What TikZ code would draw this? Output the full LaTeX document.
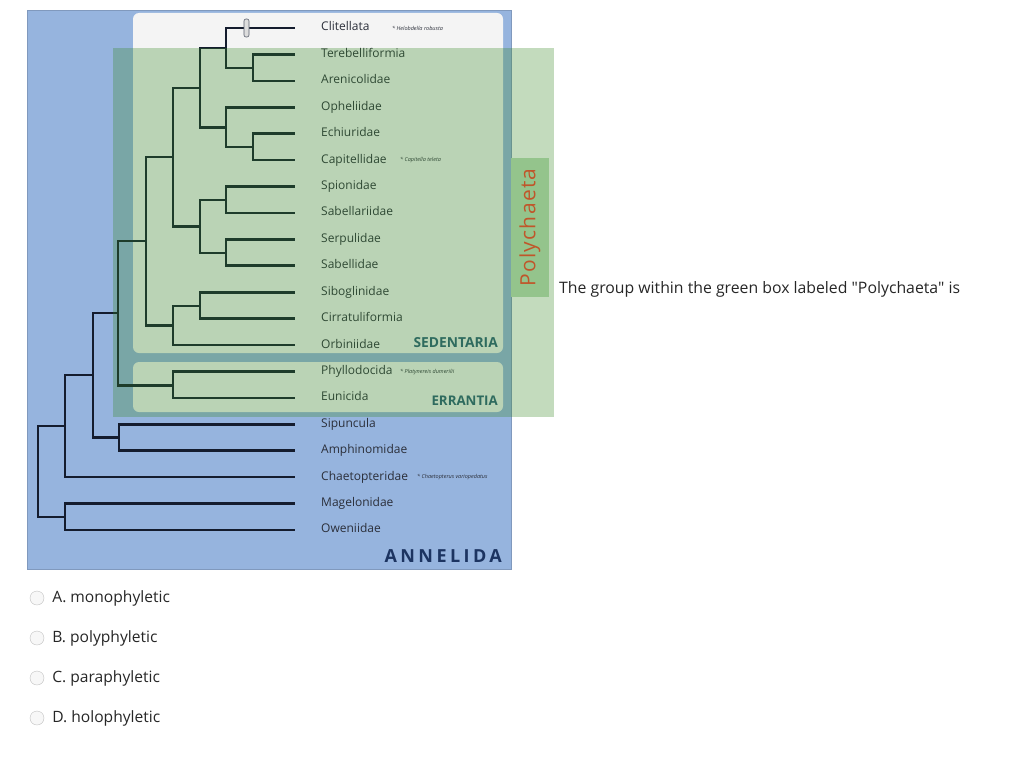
\documentclass[tikz,border=0pt]{standalone}
\usepackage{fontspec}
\setmainfont{Open Sans}[Ligatures=TeXOff]
\usepackage{tikz}
\usetikzlibrary{positioning}
\definecolor{annelidablue}{HTML}{96B4DE}
\definecolor{cladewhite}{HTML}{F4F4F4}
\definecolor{treeline}{HTML}{141C2E}
\definecolor{polygreen}{RGB}{55,135,38}
\definecolor{polybox}{HTML}{94C48C}
\definecolor{polytext}{HTML}{C0562A}
\definecolor{cladetext}{HTML}{2B5F77}
\definecolor{annelidatext}{HTML}{1C3461}
\definecolor{leaftext}{HTML}{2B2F3A}
\tikzset{%
  branch/.style={
    draw=treeline,
    line width=2.6pt
  },
  leaf label/.style={
    anchor=west,
    inner sep=0pt,
    text=leaftext,
    text height=8.5pt,
    text depth=2.5pt,
    font=\fontsize{12}{14}\selectfont
  },
  note/.style={
    anchor=west,
    inner sep=0pt,
    text=leaftext,
    font=\fontsize{5.5}{6}\selectfont\itshape
  },
  clade name/.style={
    anchor=east,
    inner sep=0pt,
    text=cladetext,
    font=\fontsize{13.8}{16}\selectfont\bfseries
  },
  clit mark/.style={
    draw=treeline!70,
    fill=cladewhite!80!gray,
    rounded corners=2pt,
    line width=0.6pt,
    minimum width=5pt,
    minimum height=18pt,
    inner sep=0pt
  },
  answer/.style={
    inner sep=0pt,
    text=black!85,
    font=\fontsize{15.6}{18}\selectfont
  },
  radio/.style={
    circle,
    draw=black!25,
    fill=black!3,
    minimum size=14pt,
    inner sep=0pt
  },
}

\begin{document}
\begin{tikzpicture}[x=1pt, y=-1pt]
\useasboundingbox (0,0) rectangle (1024,770);
% panels behind the tree
\filldraw[fill=annelidablue, draw=annelidablue!85!black, line width=0.5pt]
    (27,10) rectangle (511,569);
\fill[cladewhite, rounded corners=6pt] (133,13) rectangle (503,353);
\fill[cladewhite, rounded corners=6pt] (133,362) rectangle (503,412);
% leaves
\foreach \name/\txt [count=\i] in {clit/Clitellata, tere/Terebelliformia,
    aren/Arenicolidae, ophe/Opheliidae, echi/Echiuridae, capi/Capitellidae,
    spio/Spionidae, sabr/Sabellariidae, serp/Serpulidae, sabd/Sabellidae,
    sibo/Siboglinidae, cirr/Cirratuliformia, orbi/Orbiniidae,
    phyl/Phyllodocida, euni/Eunicida, sipu/Sipuncula, amph/Amphinomidae,
    chae/Chaetopteridae, mage/Magelonidae, owen/Oweniidae}
    {\coordinate (\name) at (295, {28+(\i-1)*26.42});
    \node[leaf label] (lab-\name) at (321, {28+(\i-1)*26.42}) {\txt};}
% inner nodes
\coordinate (n1) at (253, 68.1);
\coordinate (n2) at (226, 48);
\coordinate (n3) at (253, 147);
\coordinate (n4) at (226, 127.5);
\coordinate (n5) at (200, 88);
\coordinate (n6) at (226, 200);
\coordinate (n7) at (226, 253);
\coordinate (n8) at (200, 226.5);
\coordinate (n9) at (173, 157);
\coordinate (n10) at (200, 306);
\coordinate (n11) at (173, 325.5);
\coordinate (n12) at (146, 241);
\coordinate (n13) at (173, 385.5);
\coordinate (n14) at (118, 313);
\coordinate (n15) at (119, 437.5);
\coordinate (n16) at (93, 375);
\coordinate (n17) at (65, 426);
\coordinate (n18) at (65, 517);
\coordinate (root) at (38, 471.5);
\foreach \p/\c in {n1/tere, n1/aren, n2/clit, n2/n1, n3/echi, n3/capi,
    n4/ophe, n4/n3, n5/n2, n5/n4, n6/spio, n6/sabr, n7/serp, n7/sabd,
    n8/n6, n8/n7, n9/n5, n9/n8, n10/sibo, n10/cirr, n11/n10, n11/orbi,
    n12/n9, n12/n11, n13/phyl, n13/euni, n14/n12, n14/n13, n15/sipu,
    n15/amph, n16/n14, n16/n15, n17/n16, n17/chae, n18/mage, n18/owen,
    root/n17, root/n18}
    \draw[branch] (\p) |- (\c);
\node[clit mark] (clitmark) at (246.5, 28) {};
% species notes
\node[note] (note-clit) at (392, 28) {* Helobdella robusta};
\node[note] (note-capi) at (400, 160.1) {* Capitella teleta};
\node[note] (note-phyl) at (400, 371.6) {* Platynereis dumerilii};
\node[note] (note-chae) at (417, 477.2) {* Chaetopterus variopedatus};
% clade names
\node[clade name] (sedentaria) at (498, 343) {SEDENTARIA};
\node[clade name, font=\fontsize{13.3}{16}\selectfont\bfseries]
    (errantia) at (498, 401) {ERRANTIA};
\node[anchor=east, inner sep=0pt, text=annelidatext,
    font=\fontsize{18}{20}\selectfont\bfseries\addfontfeature{LetterSpace=19}]
    (annelida) at (502, 556) {ANNELIDA};
% polychaeta overlay
\fill[polygreen, fill opacity=0.3] (113,48) rectangle (554,417);
\node[fill=polybox, rotate=90, minimum width=139pt, minimum height=38pt,
    inner sep=0pt, text=polytext,
    font=\fontsize{21}{23}\selectfont\addfontfeature{LetterSpace=6}]
    (polylabel) at (530, 227.5) {Polychaeta};
% question
\node[answer, anchor=west, font=\fontsize{15.8}{18}\selectfont] (question)
    at (559, 289) {The group within the green box labeled "Polychaeta" is};
\foreach \ans [count=\i] in {A. monophyletic, B. polyphyletic,
    C. paraphyletic, D. holophyletic}
    {\node[radio] (radio-\i) at (37, {558+40*\i}) {};
    \node[answer, right=8pt of radio-\i] (answer-\i) {\ans};}
\end{tikzpicture}
\end{document}
